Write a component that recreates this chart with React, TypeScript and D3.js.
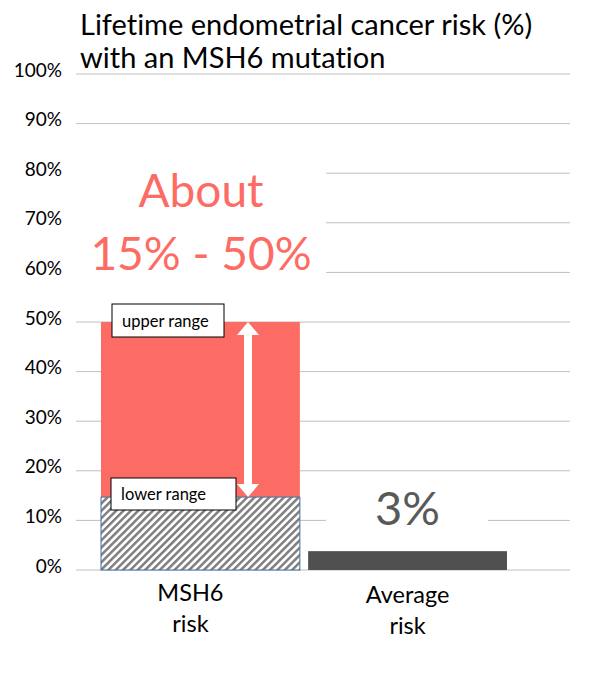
import React from "react";
import * as d3 from "d3";

const categories = ["MSH6", "Average"];
const categoryLines = [["MSH6", "risk"], ["Average", "risk"]];
const lowerRange = [14.7, 0];
const upperRange = [50, 0];
const averageRisk = [0, 3.8];
const yTicks = [0, 10, 20, 30, 40, 50, 60, 70, 80, 90, 100];
const titleLines = ["Lifetime endometrial cancer risk (%)", "with an MSH6 mutation"];
const rangeText = ["About", "15% - 50%"];
const averageText = "3%";

const W = 595;
const H = 676;
const FONT = "Lato, 'Open Sans', sans-serif";

export default function App() {
  const y = d3.scaleLinear().domain([0, 100]).range([570, 74]);
  const x = d3.scaleBand<string>().domain(categories).range([101, 507]).paddingInner(0.04);
  const bw = x.bandwidth();
  const x0 = x("MSH6")!;
  const x1 = x("Average")!;
  const gridX0 = 76;
  const gridX1 = 570;
  const arrowX = x0 + 147;
  const aTop = y(upperRange[0]);
  const aBot = y(lowerRange[0]);
  const shaft = 8;
  const headW = 22;
  const headL = 13;
  const arrowPath = [
    `M${arrowX},${aTop}`,
    `L${arrowX + headW / 2},${aTop + headL}`,
    `L${arrowX + shaft / 2},${aTop + headL}`,
    `L${arrowX + shaft / 2},${aBot - headL}`,
    `L${arrowX + headW / 2},${aBot - headL}`,
    `L${arrowX},${aBot}`,
    `L${arrowX - headW / 2},${aBot - headL}`,
    `L${arrowX - shaft / 2},${aBot - headL}`,
    `L${arrowX - shaft / 2},${aTop + headL}`,
    `L${arrowX - headW / 2},${aTop + headL}`,
    "Z",
  ].join(" ");

  return (
    <svg
      width={W}
      height={H}
      style={{ position: "absolute", left: 0, top: 0, fontVariantLigatures: "none" }}
      fontFamily={FONT}
    >
      <defs>
        <pattern id="hatch" patternUnits="userSpaceOnUse" width="5.2" height="5.2" patternTransform="rotate(45)">
          <rect width="5.2" height="5.2" fill="#ffffff" />
          <rect x="0" y="0" width="2.5" height="5.2" fill="#7f7f7f" />
        </pattern>
      </defs>
      <rect width={W} height={H} fill="#ffffff" />
      {titleLines.map((t, i) => (
        <text key={t} x={80} y={35 + i * 33} fontSize={29} fill="#000000">
          {t}
        </text>
      ))}
      {yTicks.map((t) => (
        <g key={t}>
          <line x1={gridX0} x2={gridX1} y1={y(t)} y2={y(t)} stroke="#bfbfbf" strokeWidth={1} />
          <text x={62} y={y(t) - 4} dy="0.35em" textAnchor="end" fontSize={19} fill="#000000">
            {t}%
          </text>
        </g>
      ))}
      {/* white background for the range text */}
      <rect x={gridX0} y={y(85)} width={326 - gridX0} height={y(55) - y(85)} fill="#ffffff" />
      {/* MSH6 bar: upper range */}
      <rect x={x0} y={y(upperRange[0])} width={bw} height={y(lowerRange[0]) - y(upperRange[0])} fill="#fd6c64" />
      {/* lower range hatched */}
      <rect
        x={x0}
        y={y(lowerRange[0])}
        width={bw}
        height={y(0) - y(lowerRange[0])}
        fill="url(#hatch)"
        stroke="#41719c"
        strokeWidth={1}
      />
      {/* average bar */}
      <rect x={x1} y={y(averageRisk[1])} width={bw} height={y(0) - y(averageRisk[1])} fill="#505050" />
      {/* arrow */}
      <path d={arrowPath} fill="#ffffff" />
      {/* labels */}
      <rect x={112} y={304} width={112} height={33} fill="#ffffff" stroke="#000000" strokeWidth={1} />
      <text x={122} y={327} fontSize={16.5} fill="#000000">upper range</text>
      <rect x={111} y={478} width={125} height={32} fill="#ffffff" stroke="#000000" strokeWidth={1} />
      <text x={121} y={500} fontSize={16.5} fill="#000000">lower range</text>
      {rangeText.map((t, i) => (
        <text key={t} x={201} y={207 + i * 63} textAnchor="middle" fontSize={46} fill="#fd6c64">
          {t}
        </text>
      ))}
      <rect x={326} y={480} width={162} height={50} fill="#ffffff" />
      <text x={x1 + bw / 2} y={525} textAnchor="middle" fontSize={47} fill="#595959">
        {averageText}
      </text>
      {categories.map((c, i) => (
        <g key={c}>
          {categoryLines[i].map((l, j) => (
            <text
              key={l + j}
              x={x(c)! + bw / 2 - (i === 0 ? 10 : 0)}
              y={601 + j * 31 + i * 2}
              textAnchor="middle"
              fontSize={23.5}
              fill="#000000"
            >
              {l}
            </text>
          ))}
        </g>
      ))}
    </svg>
  );
}
